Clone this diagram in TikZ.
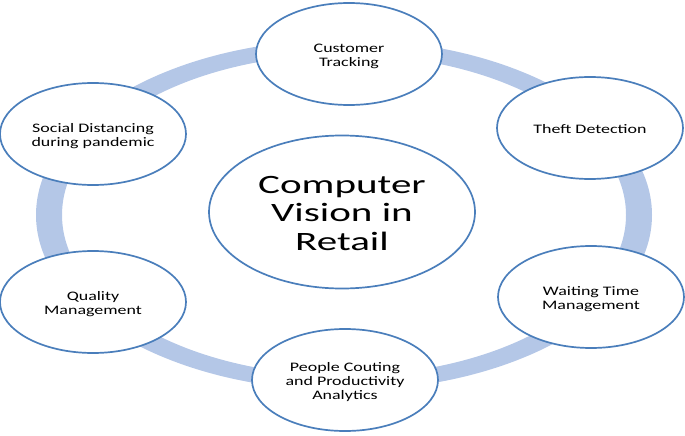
\documentclass[tikz,border=0pt]{standalone}
\usepackage{fontspec}
\usepackage{graphicx}
\setmainfont{Carlito}
\usetikzlibrary{shapes.geometric}
\definecolor{ringblue}{RGB}{180,199,231}
\definecolor{edgeblue}{RGB}{74,126,187}
\newcommand\widesmall[1]{\raisebox{-2.5pt}[\height][\depth]{\scalebox{1.38}[1]{\begin{tabular}{@{}c@{}}#1\end{tabular}}}}
\newcommand\widebig[1]{\raisebox{-4pt}[\height][\depth]{\scalebox{1.55}[1]{\begin{tabular}{@{}c@{}}#1\end{tabular}}}}
\tikzset{
  item/.style={ellipse, draw=edgeblue, line width=1.7pt, fill=white, inner sep=0pt,
    minimum width=186pt, minimum height=102pt, align=center,
    font=\fontsize{13}{14}\selectfont},
  hub/.style={ellipse, draw=edgeblue, line width=1.7pt, fill=white, inner sep=0pt,
    minimum width=266pt, minimum height=153pt, align=center,
    font=\fontsize{26.5}{28.5}\selectfont}
}
\begin{document}
\begin{tikzpicture}[x=1pt,y=-1pt]
\useasboundingbox (0,0) rectangle (685,436);
% ring
\fill[ringblue, even odd rule] (344,215) ellipse [x radius=308, y radius=175.5]
  (344,215) ellipse [x radius=282, y radius=160.5];
% nodes
\node[hub] (c) at (342,212) {\widebig{Computer\\Vision in\\Retail}};
\node[item] (ct) at (349,54) {\widesmall{Customer\\Tracking}};
\node[item] (td) at (590,128) {\widesmall{Theft Detection}};
\node[item] (wt) at (591,297) {\widesmall{Waiting Time\\Management}};
\node[item] (pc) at (345,380) {\widesmall{People Couting\\and Productivity\\Analytics}};
\node[item] (qm) at (93,302) {\widesmall{Quality\\Management}};
\node[item] (sd) at (93,134) {\widesmall{Social Distancing\\during pandemic}};
% small arc at bottom
\draw[gray, line width=1.2pt] (333,442) arc[start angle=180, end angle=0, radius=8];
\end{tikzpicture}
\end{document}
